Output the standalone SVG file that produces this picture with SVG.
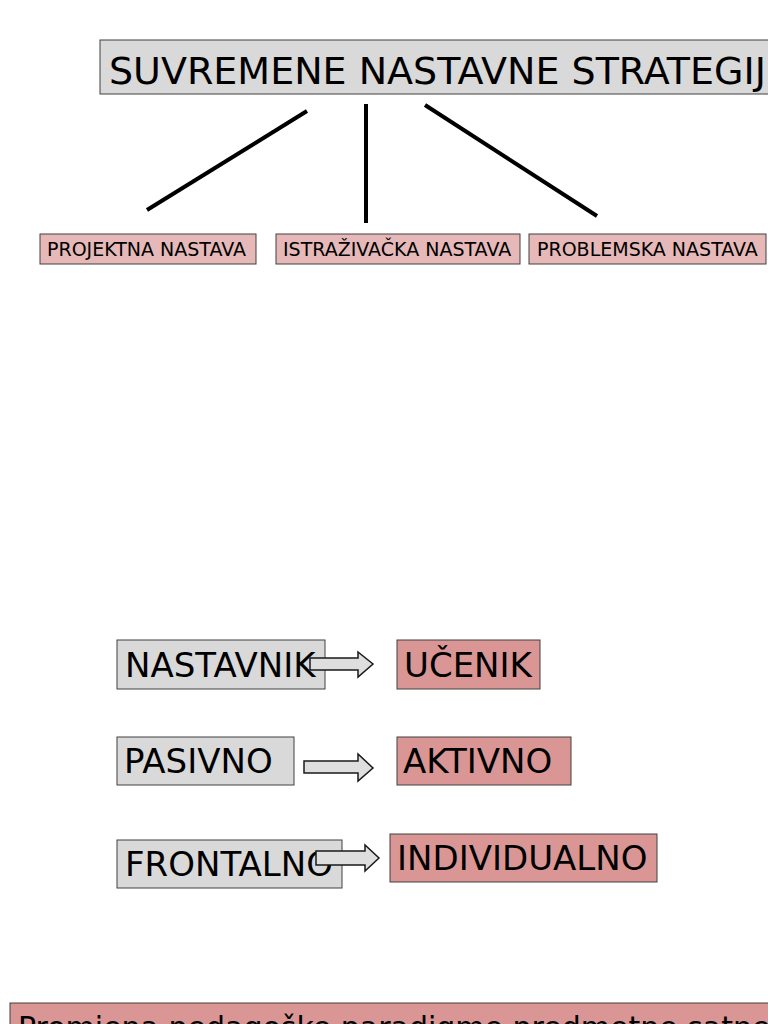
<svg xmlns="http://www.w3.org/2000/svg" width="768" height="1024" viewBox="0 0 768 1024">
<style>
text{font-family:"DejaVu Sans","Liberation Sans",sans-serif;fill:#000}
.gray{fill:#d9d9d9;stroke:#404040;stroke-width:1}
.pinkL{fill:#e6b9b8;stroke:#404040;stroke-width:1}
.pinkD{fill:#d99694;stroke:#404040;stroke-width:1}
.line{stroke:#000;stroke-width:4;fill:none}
.arrow{fill:#dedede;stroke:#1a1a1a;stroke-width:1.5}
.big{font-size:34px}
.small{font-size:19px}
</style>
<rect width="768" height="1024" fill="#fff"/>
<g id="title"><rect class="gray" x="100" y="40" width="680" height="54"/><text x="109" y="84" font-size="38">SUVREMENE NASTAVNE STRATEGIJ</text></g>
<g id="projektna"><rect class="pinkL" x="40" y="234" width="216" height="30"/><text class="small" x="47" y="256">PROJEKTNA NASTAVA</text></g>
<g id="istrazivacka"><rect class="pinkL" x="276" y="234" width="244" height="30"/><text class="small" x="283" y="256">ISTRAŽIVAČKA NASTAVA</text></g>
<g id="problemska"><rect class="pinkL" x="529" y="234" width="237" height="30"/><text class="small" x="537" y="256">PROBLEMSKA NASTAVA</text></g>
<g id="nastavnik"><rect class="gray" x="117" y="640" width="208" height="49"/><text class="big" x="125" y="677">NASTAVNIK</text></g>
<g id="ucenik"><rect class="pinkD" x="397" y="640" width="143" height="49"/><text class="big" x="404" y="677">UČENIK</text></g>
<g id="pasivno"><rect class="gray" x="117" y="737" width="177" height="48"/><text class="big" x="124" y="773">PASIVNO</text></g>
<g id="aktivno"><rect class="pinkD" x="397" y="737" width="174" height="48"/><text class="big" x="403" y="773">AKTIVNO</text></g>
<g id="frontalno"><rect class="gray" x="117" y="840" width="225" height="48"/><text class="big" x="125" y="876">FRONTALNO</text></g>
<g id="individualno"><rect class="pinkD" x="390" y="834" width="267" height="48"/><text class="big" x="397" y="870">INDIVIDUALNO</text></g>
<g id="bottom"><rect class="pinkD" x="10" y="1003" width="780" height="60"/><text x="18" y="1038" font-size="30">Promjena pedagoške paradigme predmetne satne</text></g>
<g id="connectors">
<line class="line" x1="307" y1="111" x2="147" y2="210"/>
<line class="line" x1="366" y1="104" x2="366" y2="223"/>
<line class="line" x1="425" y1="105" x2="597" y2="216"/>
<path class="arrow" d="M310 658 H358 V652 L373 664 L358 677 V670 H310 Z"/>
<path class="arrow" d="M304 761 H358 V754 L373 768 L358 781 V773 H304 Z"/>
<path class="arrow" d="M316 851 H365 V845 L379 858 L365 871 V865 H316 Z"/>
</g>
</svg>
